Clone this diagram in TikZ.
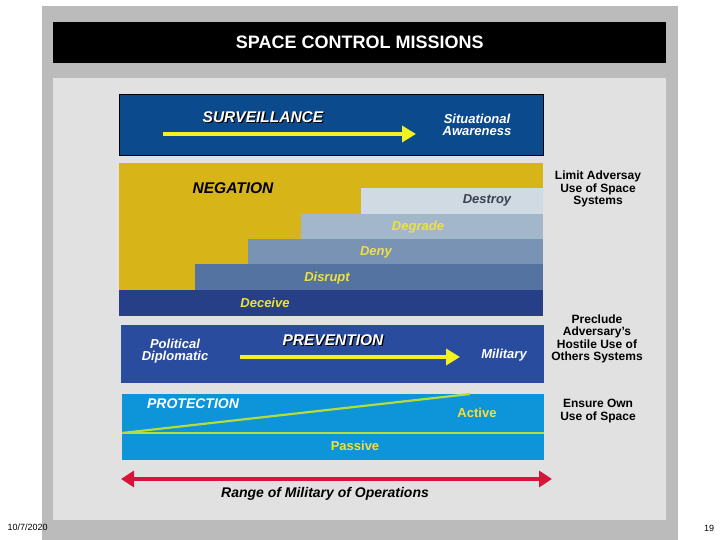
\documentclass[tikz,border=0pt]{standalone}
\usepackage{fontspec}
\setmainfont{Liberation Sans}
\usetikzlibrary{arrows.meta,positioning}
\definecolor{panelgray}{HTML}{BBBBBB}
\definecolor{panellight}{HTML}{E1E1E1}
\definecolor{survblue}{HTML}{0B4A8C}
\definecolor{neggold}{HTML}{D7B418}
\definecolor{deceiveblue}{HTML}{263F86}
\definecolor{disruptblue}{HTML}{5473A1}
\definecolor{denyblue}{HTML}{7993B5}
\definecolor{degradeblue}{HTML}{A3B7CA}
\definecolor{destroyblue}{HTML}{CFDAE2}
\definecolor{prevblue}{HTML}{2A4C9E}
\definecolor{protblue}{HTML}{0E94D8}
\definecolor{linegreen}{HTML}{B4DC3C}
\definecolor{labelyellow}{HTML}{F0E040}
\definecolor{arrowyellow}{HTML}{F2F21E}
\definecolor{rangered}{HTML}{D8143A}
\definecolor{destroytext}{HTML}{3A4050}
\tikzset{
  band/.style={draw=none, inner sep=0pt, anchor=north west},
  headtext/.style={font=\bfseries\itshape\fontsize{15.5}{15.5}\selectfont},
  steptext/.style={font=\bfseries\itshape\fontsize{13}{13}\selectfont, text=labelyellow},
  sidetext/.style={font=\bfseries\fontsize{12}{12.4}\selectfont, align=center},
  intext/.style={font=\bfseries\itshape\fontsize{13}{12.2}\selectfont, text=white, align=center},
  bigarrow/.style={-{Triangle[length=14pt,width=16pt]}, line width=4pt, arrowyellow}
}
\newcommand{\shadowlabel}[3]{%
  \node[headtext, black] at ([shift={(1.2,1.2)}]#1) {#3};
  \node[headtext, white] (#2) at (#1) {#3};}
\begin{document}
\begin{tikzpicture}[x=1pt, y=-1pt]
\useasboundingbox (0,0) rectangle (720,540);
\fill[white] (0,0) rectangle (720,540);
% frame
\node[band, fill=panelgray, minimum width=636pt, minimum height=534pt] (frame) at (42,6) {};
\node[band, fill=black, minimum width=613pt, minimum height=41pt] (titlebar) at (53,22) {};
\node[font=\bfseries\fontsize{18}{18}\selectfont, text=white] (title) at (titlebar.center) {SPACE CONTROL MISSIONS};
\node[band, fill=panellight, minimum width=613pt, minimum height=442pt] (panel) at (53,78) {};
\node[font=\fontsize{9}{9}\selectfont, anchor=west] (date) at (4,527) {10/7/2020};
\node[font=\fontsize{9}{9}\selectfont] (page) at (709,528) {19};

% surveillance
\node[band, fill=survblue, draw=black, line width=1pt, minimum width=424pt, minimum height=61pt] (surv) at (119,94) {};
\shadowlabel{263,117}{survlabel}{SURVEILLANCE}
\node[intext] (aware) at (477,125) {Situational\\Awareness};
\coordinate (survstart) at (163,134);
\coordinate (survend) at (416,134);
\draw[bigarrow] (survstart) -- (survend);

% negation
\node[band, fill=neggold, minimum width=424pt, minimum height=153pt] (neg) at (119,163) {};
\node[headtext, black] (neglabel) at (233,188) {NEGATION};
\node[band, fill=destroyblue, minimum width=182pt, minimum height=26pt] (destroy) at (361,188) {};
\node[band, fill=degradeblue, minimum width=242pt, minimum height=25pt] (degrade) at (301,214) {};
\node[band, fill=denyblue, minimum width=295pt, minimum height=25pt] (deny) at (248,239) {};
\node[band, fill=disruptblue, minimum width=348pt, minimum height=26pt] (disrupt) at (195,264) {};
\node[band, fill=deceiveblue, minimum width=424pt, minimum height=26pt] (deceive) at (119,290) {};
\node[steptext, text=destroytext] at (487,200) {Destroy};
\node[steptext] at (418,227) {Degrade};
\node[steptext] at (376,252) {Deny};
\node[steptext] at (327,278) {Disrupt};
\node[steptext] at (265,303) {Deceive};

% prevention
\node[band, fill=prevblue, minimum width=423pt, minimum height=58pt] (prev) at (121,325) {};
\shadowlabel{333,340}{prevlabel}{PREVENTION}
\node[intext] (politic) at (175,351) {Political\\Diplomatic};
\node[intext] (military) at (504,355) {Military};
\coordinate (prevstart) at (240,357);
\coordinate (prevend) at (460,357);
\draw[bigarrow] (prevstart) -- (prevend);

% protection
\node[band, fill=protblue, minimum width=422pt, minimum height=66pt] (prot) at (122,394) {};
\node[headtext, font=\bfseries\itshape\fontsize{14}{14}\selectfont, white] (protlabel) at (193,404) {PROTECTION};
\coordinate (protleft) at (122,433);
\coordinate (protright) at (544,433);
\coordinate (prottop) at (470,394);
\draw[linegreen, line width=2.2pt] (protleft) -- (prottop);
\draw[linegreen, line width=2.2pt] (protleft) -- (protright);
\node[font=\bfseries\fontsize{13}{13}\selectfont, text=labelyellow] (active) at (477,413) {Active};
\node[font=\bfseries\fontsize{13}{13}\selectfont, text=labelyellow] (passive) at (355,446) {Passive};

% side notes
\node[sidetext] (limit) at (598,189) {Limit Adversay\\Use of Space\\Systems};
\node[sidetext] (preclude) at (597,339) {Preclude\\Adversary's\\Hostile Use of\\Others Systems};
\node[sidetext] (ensure) at (598,411) {Ensure Own\\Use of Space};

% range
\coordinate (rangeleft) at (121,479);
\coordinate (rangeright) at (552,479);
\draw[{Triangle[length=13pt,width=16pt]}-{Triangle[length=13pt,width=16pt]}, line width=3.5pt, rangered] (rangeleft) -- (rangeright);
\node[font=\bfseries\itshape\fontsize{14}{14}\selectfont] (range) at (325,494) {Range of Military of Operations};
\end{tikzpicture}
\end{document}
